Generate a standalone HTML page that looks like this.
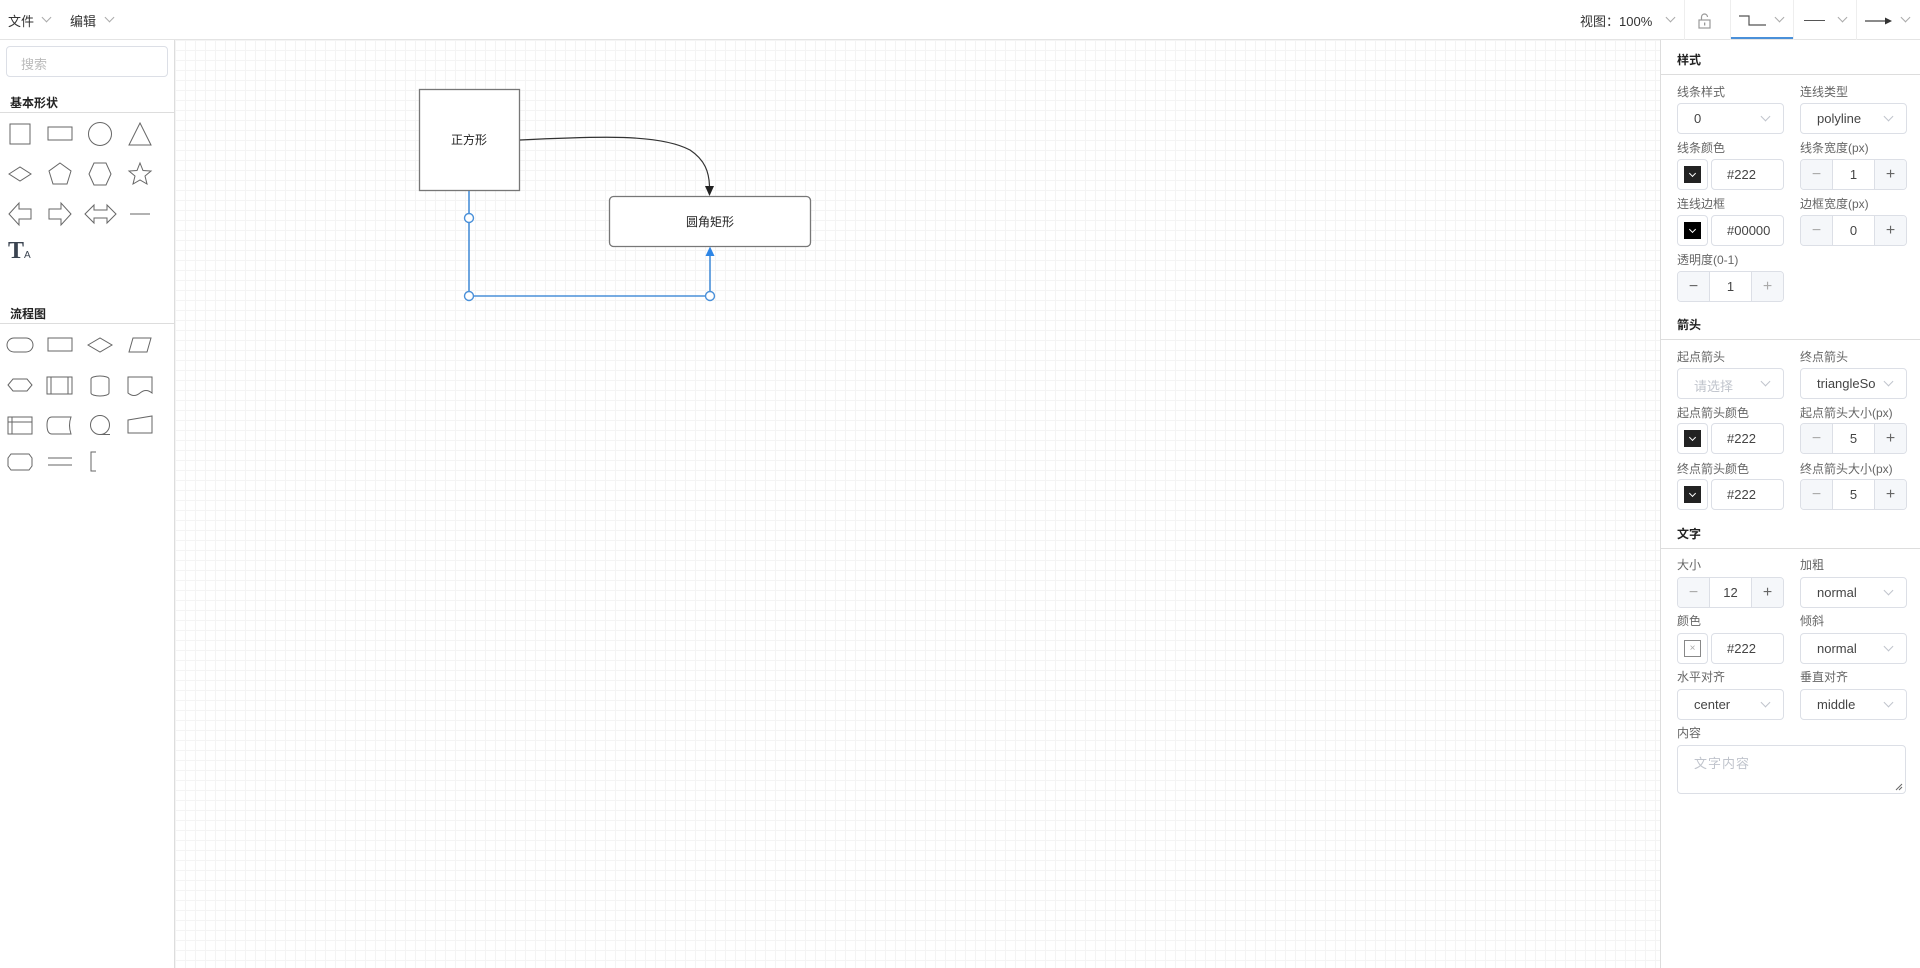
<!DOCTYPE html>
<html><head><meta charset="utf-8">
<style>
*{box-sizing:border-box;margin:0;padding:0}
body{width:1920px;height:968px;overflow:hidden;background:#fff;font-family:"Liberation Sans","Noto Sans CJK SC",sans-serif;font-size:13px;color:#333;position:relative}
.a{position:absolute}
.top{left:0;top:0;width:1920px;height:40px;border-bottom:1px solid #e4e4e4;background:#fff}
.chev{position:absolute;width:7px;height:7px;border-right:1px solid #aaa;border-bottom:1px solid #aaa;transform:rotate(45deg)}
.left{left:0;top:40px;width:175px;height:928px;border-right:1px solid #ddd;background:#fff}
.canvas{left:175px;top:40px;width:1485px;height:928px;background-color:#fff;background-image:linear-gradient(#f4f4f4 1px,transparent 1px),linear-gradient(90deg,#f4f4f4 1px,transparent 1px);background-size:10px 10px}
.right{left:1660px;top:40px;width:260px;height:928px;border-left:1px solid #ddd;background:#fff}
.rin{position:absolute;left:0;top:-40px;width:260px;height:968px}
.h{position:absolute;left:16px;font-weight:bold;font-size:12px;color:#222}
.hr{position:absolute;left:0;width:260px;height:1px;background:#ddd}
.lb{position:absolute;font-size:12px;color:#666}
.box{position:absolute;height:31px;border:1px solid #dcdfe6;border-radius:4px;background:#fff;font-size:13px;color:#444}
.sel{width:107px}
.sel span{position:absolute;left:16px;top:7px}
.sel .chev{right:14px;top:9px;border-color:#c0c4cc}
.num{width:107px;overflow:hidden}
.num .m,.num .p{position:absolute;top:0;width:32px;height:29px;background:#f5f7fa;color:#aaa;text-align:center;line-height:29px;font-size:16px}
.num .m{left:0;border-right:1px solid #dcdfe6}
.num .p{right:0;border-left:1px solid #dcdfe6}
.num .v{position:absolute;left:32px;right:32px;top:7px;text-align:center}
.sw{position:absolute;width:31px;height:31px;border:1px solid #dcdfe6;border-radius:4px;background:#fff}
.sw i{position:absolute;left:6px;top:6px;width:17px;height:17px;background:#222}
.sw i:after{content:"";position:absolute;left:6px;top:5px;width:4px;height:4px;border-right:1px solid #fff;border-bottom:1px solid #fff;transform:rotate(45deg)}
.tx{width:73px}
.tx span{position:absolute;left:15px;top:7px}
</style></head><body>
<div class="a top">
 <div class="a" style="left:8px;top:11px;font-size:13px">文件</div><div class="chev" style="left:43px;top:14px"></div>
 <div class="a" style="left:70px;top:11px;font-size:13px">编辑</div><div class="chev" style="left:106px;top:14px"></div>
 <div class="a" style="left:1580px;top:11px;font-size:13px">视图：100%</div><div class="chev" style="left:1667px;top:14px"></div>
 <div class="a" style="left:1684px;top:0;width:1px;height:40px;background:#eee"></div>
 <svg class="a" style="left:1697px;top:12px" width="16" height="18"><rect x="2" y="8" width="11" height="8" fill="none" stroke="#999" stroke-width="1.2"/><path d="M4.5 8V5a3 3 0 0 1 6 0" fill="none" stroke="#999" stroke-width="1.2"/><rect x="7" y="10.5" width="1.3" height="3" fill="#999"/></svg>
 <div class="a" style="left:1730px;top:0;width:1px;height:40px;background:#eee"></div>
 <svg class="a" style="left:1738px;top:12px" width="34" height="16"><path d="M1 4H11V13H28" fill="none" stroke="#555" stroke-width="1.2"/></svg>
 <div class="chev" style="left:1776px;top:14px"></div>
 <div class="a" style="left:1731px;top:37px;width:62px;height:2px;background:#4a90d9"></div>
 <div class="a" style="left:1793px;top:0;width:1px;height:40px;background:#eee"></div>
 <div class="a" style="left:1804px;top:20px;width:21px;height:1px;background:#555"></div>
 <div class="chev" style="left:1839px;top:14px"></div>
 <div class="a" style="left:1856px;top:0;width:1px;height:40px;background:#eee"></div>
 <svg class="a" style="left:1864px;top:15px" width="30" height="12"><path d="M1 6H22" stroke="#444" stroke-width="1.2"/><path d="M21 2.5L28 6L21 9.5Z" fill="#333"/></svg>
 <div class="chev" style="left:1902px;top:14px"></div>
</div>

<div class="a left">
 <div class="a" style="left:6px;top:6px;width:162px;height:31px;border:1px solid #dcdfe6;border-radius:4px;color:#bbb;font-size:13px;padding:7px 14px">搜索</div>
 <div class="a" style="left:10px;top:54px;font-weight:bold;font-size:12px;color:#222">基本形状</div>
 <div class="a" style="left:0;top:72px;width:174px;height:1px;background:#ddd"></div>
 <svg class="a" style="left:0;top:73px" width="174" height="240" fill="none" stroke="#666" stroke-width="1">
  <rect x="10" y="11" width="20" height="20"/>
  <rect x="48" y="14" width="24" height="13"/>
  <circle cx="100" cy="21" r="11.5"/>
  <path d="M140 10L151 32H129Z"/>
  <path d="M9 61L20 54L31 61L20 68Z"/>
  <path d="M60 50L71 58L67 71H53L49 58Z"/>
  <path d="M94 50H106L111 61L106 72H94L89 61Z"/>
  <path d="M140 50L143 57.5L151 58L145 63L147 71L140 67L133 71L135 63L129 58L137 57.5Z"/>
  <path d="M9 101L19 90V96H31V106H19V112Z"/>
  <path d="M49 96H61V90L71 101L61 112V106H49Z"/>
  <path d="M85 101L94 92V97H107V92L116 101L107 110V105H94V110Z"/>
  <path d="M130 101H150"/>
 </svg>
 <div class="a" style="left:8px;top:199px;font-family:'Liberation Serif',serif;font-weight:bold;font-size:24px;color:#3a4350;line-height:24px">T<span style="font-family:'Liberation Sans',sans-serif;font-weight:normal;font-size:10px">A</span></div>
 <div class="a" style="left:10px;top:265px;font-weight:bold;font-size:12px;color:#222">流程图</div>
 <div class="a" style="left:0;top:283px;width:174px;height:1px;background:#ddd"></div>
 <svg class="a" style="left:0;top:284px" width="174" height="200" fill="none" stroke="#666" stroke-width="1">
  <rect x="7" y="14" width="26" height="14" rx="7"/>
  <rect x="48" y="14" width="24" height="13"/>
  <path d="M88 21L100 14L112 21L100 28Z"/>
  <path d="M133 14H151L147 28H129Z"/>
  <path d="M8 61L13 55H27L32 61L27 67H13Z"/>
  <rect x="47" y="53" width="25" height="17"/><path d="M51 53V70M68 53V70"/>
  <path d="M91 55a9 3 0 0 1 18 0V69a9 3 0 0 1-18 0Z"/>
  <path d="M128 53H152V69Q146 64 140 69T128 69Z"/>
  <rect x="8" y="93" width="24" height="17"/><path d="M8 98H32M12 93V110"/>
  <path d="M52 93H71Q68 101 71 110H52Q47 110 47 101Q47 93 52 93Z"/>
  <circle cx="100" cy="101" r="9.5"/><path d="M100 110.5H110"/>
  <path d="M128 96L152 92V109H128Z"/>
  <path d="M11 130H29L32 134V142L29 146H11L8 142V134Z"/>
  <path d="M48 134H72M48 141H72"/>
  <path d="M96 128H91V147H96"/>
 </svg>
</div>

<div class="a canvas"></div>
<svg class="a" style="left:0;top:0" width="1660" height="968">
 <rect x="419.5" y="89.5" width="100" height="101" fill="#fff" stroke="#777" stroke-width="1.3"/>
 <text x="469" y="144" font-size="12" text-anchor="middle" fill="#222" font-family="Liberation Sans,Noto Sans CJK SC,sans-serif">正方形</text>
 <rect x="609.5" y="196.5" width="201" height="50" rx="4" fill="#fff" stroke="#777" stroke-width="1.3"/>
 <text x="710" y="226" font-size="12" text-anchor="middle" fill="#222" font-family="Liberation Sans,Noto Sans CJK SC,sans-serif">圆角矩形</text>
 <path d="M520 140C600 136 660 134 690 150C705 160 709 172 709.5 186" fill="none" stroke="#333" stroke-width="1.2"/>
 <path d="M705 186L714 186L709.5 196Z" fill="#222"/>
 <path d="M469 191V296H710V256" fill="none" stroke="#4a90d9" stroke-width="1.6"/>
 <path d="M705.5 256L714.5 256L710 246.5Z" fill="#2e86e6"/>
 <g fill="#fff" stroke="#4a90d9" stroke-width="1.4">
  <circle cx="469" cy="218" r="4.5"/><circle cx="469" cy="296" r="4.5"/><circle cx="710" cy="296" r="4.5"/>
 </g>
</svg>

<div class="a right"><div class="rin">
 <div class="h" style="top:51px">样式</div>
 <div class="hr" style="top:74px"></div>
 <div class="lb" style="left:16px;top:83px">线条样式</div><div class="lb" style="left:139px;top:83px">连线类型</div>
 <div class="box sel" style="left:16px;top:103px"><span>0</span><div class="chev"></div></div>
 <div class="box sel" style="left:139px;top:103px"><span>polyline</span><div class="chev"></div></div>
 <div class="lb" style="left:16px;top:139px">线条颜色</div><div class="lb" style="left:139px;top:139px">线条宽度(px)</div>
 <div class="sw" style="left:16px;top:159px"><i></i></div><div class="box tx" style="left:50px;top:159px"><span>#222</span></div>
 <div class="box num" style="left:139px;top:159px"><div class="m">−</div><div class="v">1</div><div class="p" style="color:#666">+</div></div>
 <div class="lb" style="left:16px;top:195px">连线边框</div><div class="lb" style="left:139px;top:195px">边框宽度(px)</div>
 <div class="sw" style="left:16px;top:215px"><i style="background:#000"></i></div><div class="box tx" style="left:50px;top:215px"><span>#00000</span></div>
 <div class="box num" style="left:139px;top:215px"><div class="m">−</div><div class="v">0</div><div class="p" style="color:#666">+</div></div>
 <div class="lb" style="left:16px;top:251px">透明度(0-1)</div>
 <div class="box num" style="left:16px;top:271px"><div class="m" style="color:#666">−</div><div class="v">1</div><div class="p">+</div></div>
 <div class="h" style="top:316px">箭头</div>
 <div class="hr" style="top:339px"></div>
 <div class="lb" style="left:16px;top:348px">起点箭头</div><div class="lb" style="left:139px;top:348px">终点箭头</div>
 <div class="box sel" style="left:16px;top:368px"><span style="color:#c0c4cc">请选择</span><div class="chev"></div></div>
 <div class="box sel" style="left:139px;top:368px"><span>triangleSo</span><div class="chev"></div></div>
 <div class="lb" style="left:16px;top:404px">起点箭头颜色</div><div class="lb" style="left:139px;top:404px">起点箭头大小(px)</div>
 <div class="sw" style="left:16px;top:423px"><i></i></div><div class="box tx" style="left:50px;top:423px"><span>#222</span></div>
 <div class="box num" style="left:139px;top:423px"><div class="m">−</div><div class="v">5</div><div class="p" style="color:#666">+</div></div>
 <div class="lb" style="left:16px;top:460px">终点箭头颜色</div><div class="lb" style="left:139px;top:460px">终点箭头大小(px)</div>
 <div class="sw" style="left:16px;top:479px"><i></i></div><div class="box tx" style="left:50px;top:479px"><span>#222</span></div>
 <div class="box num" style="left:139px;top:479px"><div class="m">−</div><div class="v">5</div><div class="p" style="color:#666">+</div></div>
 <div class="h" style="top:525px">文字</div>
 <div class="hr" style="top:548px"></div>
 <div class="lb" style="left:16px;top:556px">大小</div><div class="lb" style="left:139px;top:556px">加粗</div>
 <div class="box num" style="left:16px;top:577px"><div class="m">−</div><div class="v">12</div><div class="p" style="color:#666">+</div></div>
 <div class="box sel" style="left:139px;top:577px"><span>normal</span><div class="chev"></div></div>
 <div class="lb" style="left:16px;top:612px">颜色</div><div class="lb" style="left:139px;top:612px">倾斜</div>
 <div class="sw" style="left:16px;top:633px"><div style="position:absolute;left:6px;top:6px;width:17px;height:17px;border:1px solid #888;color:#aaa;font-size:10px;text-align:center;line-height:15px">×</div></div>
 <div class="box tx" style="left:50px;top:633px"><span>#222</span></div>
 <div class="box sel" style="left:139px;top:633px"><span>normal</span><div class="chev"></div></div>
 <div class="lb" style="left:16px;top:668px">水平对齐</div><div class="lb" style="left:139px;top:668px">垂直对齐</div>
 <div class="box sel" style="left:16px;top:689px"><span>center</span><div class="chev"></div></div>
 <div class="box sel" style="left:139px;top:689px"><span>middle</span><div class="chev"></div></div>
 <div class="lb" style="left:16px;top:724px">内容</div>
 <div class="box" style="left:16px;top:745px;width:229px;height:49px"><span style="position:absolute;left:16px;top:7px;color:#c0c4cc;letter-spacing:1px">文字内容</span>
  <svg style="position:absolute;right:2px;bottom:2px" width="8" height="8"><path d="M1 7L7 1M4 7L7 4" stroke="#666"/></svg></div>
</div></div>
</body></html>
